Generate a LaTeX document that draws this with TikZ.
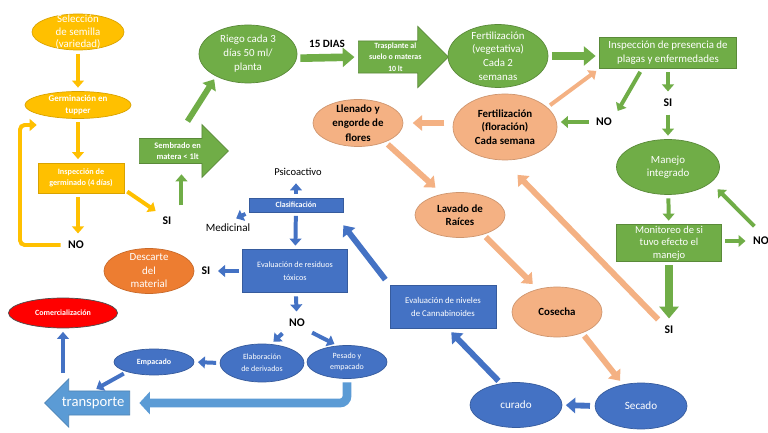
\documentclass[tikz,border=0pt]{standalone}
\usepackage{fontspec}
\setmainfont{Carlito}
\usetikzlibrary{shapes,arrows.meta}

\definecolor{amarillo}{HTML}{FFC000}
\definecolor{verde}{HTML}{70AD47}
\definecolor{salmon}{HTML}{F4B183}
\definecolor{azul}{HTML}{4472C4}
\definecolor{azulclaro}{HTML}{5B9BD5}
\definecolor{naranja}{HTML}{ED7D31}
\definecolor{rojo}{HTML}{FF0000}

\begin{document}
\begin{tikzpicture}[
    x=0.03cm, y=-0.03cm,
    elip/.style={ellipse, inner xsep=1pt, inner ysep=-4pt, align=center, line width=0.6pt},
    caja/.style={rectangle, inner sep=1pt, align=center, line width=0.6pt},
    flecha/.style={single arrow, single arrow head extend=0.42cm, anchor=tail, align=center, line width=0.6pt},
    amar/.style={fill=amarillo, draw=amarillo!85!black, text=white},
    verd/.style={fill=verde, draw=verde!80!black, text=white},
    salm/.style={fill=salmon, draw=salmon!85!black, text=black, font=\fontsize{9.3}{11.5}\selectfont\bfseries},
    azu/.style={fill=azul, draw=azul!80!black, text=white},
    rotulo/.style={font=\fontsize{10}{12}\selectfont\bfseries},
    arrow/.style={line width=3.4pt, -{Triangle[width=10pt,length=6pt]}, shorten <=3pt, shorten >=3pt},
    arrowmid/.style={arrow, line width=5pt, -{Triangle[width=13pt,length=8pt]}},
    arrowbig/.style={arrow, line width=6.5pt, -{Triangle[width=16pt,length=10pt]}}
]
\path[use as bounding box, fill=white] (0,0) rectangle (768,433);

% Germinacion
\node[elip, amar, inner ysep=-5pt, minimum width=2.76cm, minimum height=1.08cm, font=\fontsize{9.3}{10.8}\selectfont] (sel) at (78,32) {Selección\\de semilla\\(variedad)};
\node[elip, amar, minimum width=3.18cm, minimum height=0.81cm, font=\fontsize{7.6}{10.5}\selectfont\bfseries] (germ) at (78,105) {Germinación en\\tupper};
\node[caja, amar, minimum width=2.58cm, minimum height=0.9cm, font=\fontsize{7}{9.5}\selectfont\bfseries] (insp) at (81,178) {Inspección de\\germinado (4 días)};
\node[rotulo] (noA) at (76,245) {NO};
\node[rotulo] (siA) at (167,221) {SI};

% Vegetativo
\node[flecha, verd, minimum height=2.67cm, inner xsep=4pt, inner ysep=3pt, font=\fontsize{7.2}{9.5}\selectfont\bfseries] (sembrado) at (139,151) {Sembrado en\\matera < 1lt};
\node[elip, verd, minimum width=2.94cm, minimum height=1.74cm, font=\fontsize{9.3}{12}\selectfont] (riego) at (248,54) {Riego cada 3\\días 50 ml/\\planta};
\node[font=\fontsize{9.5}{11}\selectfont\bfseries] (dias) at (327,44) {15 DIAS};
\node[flecha, verd, single arrow head extend=0.435cm, minimum height=2.7cm, inner xsep=1pt, inner ysep=1pt, font=\fontsize{6.8}{10}\selectfont\bfseries] (trasplante) at (358,57) {Trasplante al\\suelo o materas\\10 lt};
\node[elip, verd, minimum width=3cm, minimum height=1.89cm, font=\fontsize{9.3}{11.8}\selectfont] (fertveg) at (498,56) {Fertilización\\(vegetativa)\\Cada 2\\semanas};
\node[caja, verd, minimum width=4.11cm, minimum height=0.93cm, font=\fontsize{9.3}{12}\selectfont] (plagas) at (668,53) {Inspección de presencia de\\plagas y enfermedades};
\node[rotulo] (siB) at (668,103) {SI};
\node[rotulo] (noB) at (604,122) {NO};
\node[elip, verd, minimum width=3.09cm, minimum height=1.65cm, font=\fontsize{9.3}{11.5}\selectfont] (manejo) at (668,167) {Manejo\\integrado};
\node[caja, verd, inner ysep=0.5pt, minimum width=3.15cm, minimum height=1.11cm, font=\fontsize{9}{10.5}\selectfont] (monitoreo) at (669,243) {Monitoreo de si\\tuvo efecto el\\manejo};
\node[rotulo] (noC) at (761,241) {NO};
\node[rotulo] (siC) at (669,330) {SI};

% Floracion
\node[elip, salm, minimum width=3.12cm, minimum height=1.98cm] (fertflor) at (505,127) {Fertilización\\(floración)\\Cada semana};
\node[elip, salm, minimum width=2.7cm, minimum height=1.41cm, font=\fontsize{9.3}{12.5}\selectfont\bfseries] (llenado) at (358,123) {Llenado y\\engorde de\\flores};
\node[elip, salm, minimum width=2.7cm, minimum height=1.35cm] (lavado) at (460,215) {Lavado de\\Raíces};
\node[elip, salm, minimum width=2.7cm, minimum height=1.5cm] (cosecha) at (557,312) {Cosecha};

% Poscosecha
\node[elip, azu, minimum width=2.76cm, minimum height=1.38cm, font=\fontsize{9.5}{11}\selectfont] (secado) at (641,406) {Secado};
\node[elip, azu, minimum width=2.76cm, minimum height=1.35cm, font=\fontsize{9.5}{11}\selectfont] (curado) at (516,405) {curado};
\node[caja, azu, minimum width=3.18cm, minimum height=1.29cm, font=\fontsize{7.5}{10.5}\selectfont] (cannab) at (443,307) {Evaluación de niveles\\de Cannabinoides};
\node[caja, azu, minimum width=2.82cm, minimum height=0.42cm, font=\fontsize{6.8}{8}\selectfont\bfseries] (clasif) at (296,205) {Clasificación};
\node[font=\fontsize{9}{11}\selectfont] (psico) at (298,172) {Psicoactivo};
\node[font=\fontsize{9.5}{11}\selectfont] (medic) at (228,228) {Medicinal};
\node[caja, azu, minimum width=3.15cm, minimum height=1.29cm, font=\fontsize{7}{11}\selectfont] (residuos) at (295,271) {Evaluación de residuos\\tóxicos};
\node[rotulo] (siD) at (206,271) {SI};
\node[elip, fill=naranja, draw=naranja!85!black, text=white, minimum width=2.7cm, minimum height=1.35cm, font=\fontsize{9.3}{11.5}\selectfont] (descarte) at (149,271) {Descarte\\del\\material};
\node[rotulo] (noD) at (297,323) {NO};
\node[elip, azu, minimum width=2.52cm, minimum height=1.14cm, font=\fontsize{6.8}{10}\selectfont] (derivados) at (262,363) {Elaboración\\de derivados};
\node[elip, azu, minimum width=2.4cm, minimum height=0.99cm, font=\fontsize{6.8}{10}\selectfont] (pesado) at (347,362) {Pesado y\\empacado};
\node[elip, azu, minimum width=2.4cm, minimum height=0.78cm, font=\fontsize{6.8}{8}\selectfont\bfseries] (empacado) at (154,362) {Empacado};
\node[flecha, fill=azulclaro, draw=azulclaro!85!black, text=white, shape border rotate=180, single arrow head extend=0.36cm, minimum height=2.55cm, inner xsep=0pt, inner ysep=5pt, font=\fontsize{12.5}{14}\selectfont] (transporte) at (130,403) {transporte};
\node[elip, fill=rojo, draw=black!70, text=white, minimum width=3.27cm, minimum height=0.9cm, font=\fontsize{6.8}{8}\selectfont\bfseries] (comerc) at (63,313) {Comercialización};

% Arrows
\draw[arrow, amarillo] (sel) -- (germ);
\draw[arrow, amarillo] (germ) -- (germ |- insp.north);
\draw[arrow, amarillo] (germ |- insp.south) -- (germ |- noA.north);
\coordinate (vuelta) at (20,125);
\draw[arrow, amarillo, rounded corners=4pt] (noA.west) -| (vuelta) -- (vuelta -| germ.south west);
\draw[arrow, amarillo] (insp.-15) -- (siA.north west);
\coordinate (siAarr) at ([shift={(6,-4)}]siA.north east);
\draw[arrow, verde, shorten >=9pt] (siAarr) -- (siAarr |- sembrado.south);
\draw[arrowmid, verde] ([shift={(8,-14)}]sembrado.north) -- (riego.215);
\draw[arrowbig, verde] (riego.-5) -- (trasplante.tail);
\draw[arrowbig, verde] (fertveg.east) -- (plagas.west |- fertveg.east);
\draw[arrow, verde] (plagas) -- (siB);
\draw[arrow, verde] (siB) -- (manejo);
\draw[arrow, verde] ([shift={(-26,0)}]plagas.south) -- (noB.north east);
\draw[arrow, verde] (noB.west) -- (noB.west -| fertflor.east);
\draw[arrow, salmon] (fertflor.25) -- (plagas.south west);
\draw[arrow, verde] (manejo) -- (monitoreo);
\draw[arrow, verde] (monitoreo.east |- noC.west) -- (noC.west);
\draw[arrow, verde, shorten <=8pt, shorten >=8pt] (noC.north) -- (manejo.-20);
\draw[arrowbig, verde] (monitoreo) -- (siC);
\draw[arrowmid, salmon] (siC.north west) -- ([shift={(10,12)}]fertflor.south);
\draw[arrowmid, salmon, shorten <=7pt, shorten >=8pt] (fertflor.west |- llenado.east) -- (llenado.east);
\draw[arrowmid, salmon, shorten >=8pt] (llenado.-35) -- (lavado.130);
\draw[arrowmid, salmon, shorten >=6pt] (lavado.-40) -- (cosecha.130);
\draw[arrowmid, salmon, shorten >=4pt] (cosecha.-40) -- (secado.130);
\draw[arrowmid, azul, shorten <=4pt] (secado.west) -- (curado.east);
\draw[arrowmid, azul, shorten >=4pt] (curado.125) -- ([shift={(5,0)}]cannab.south);
\draw[arrowmid, azul, shorten <=6pt, shorten >=14pt] (cannab.north west) -- ([shift={(-10,0)}]clasif.south east);
\draw[arrow, azul] (clasif.north) -- (clasif.north |- psico.south);
\draw[arrow, azul] (clasif.south west) -- ([shift={(5,0)}]medic.north);
\draw[arrow, azul] (clasif) -- (residuos);
\draw[arrow, azul] (residuos.west) -- (siD.east);
\draw[arrow, azul] (residuos) -- (noD);
\draw[arrow, azul] (noD.south west) -- (derivados.65);
\draw[arrow, azul] (noD.south east) -- (pesado.120);
\draw[arrow, azul] (derivados.west) -- (empacado.east);
\draw[arrow, azul] (empacado.200) -- (transporte.north);
\draw[line width=7.5pt, azulclaro, rounded corners=6pt, -{Triangle[width=19pt,length=9pt]}, shorten <=3pt, shorten >=8pt] (pesado.south) |- (transporte.tail);
\draw[arrow, azul, shorten <=15pt] (transporte.north -| comerc.south) -- (comerc.south);
\end{tikzpicture}
\end{document}
